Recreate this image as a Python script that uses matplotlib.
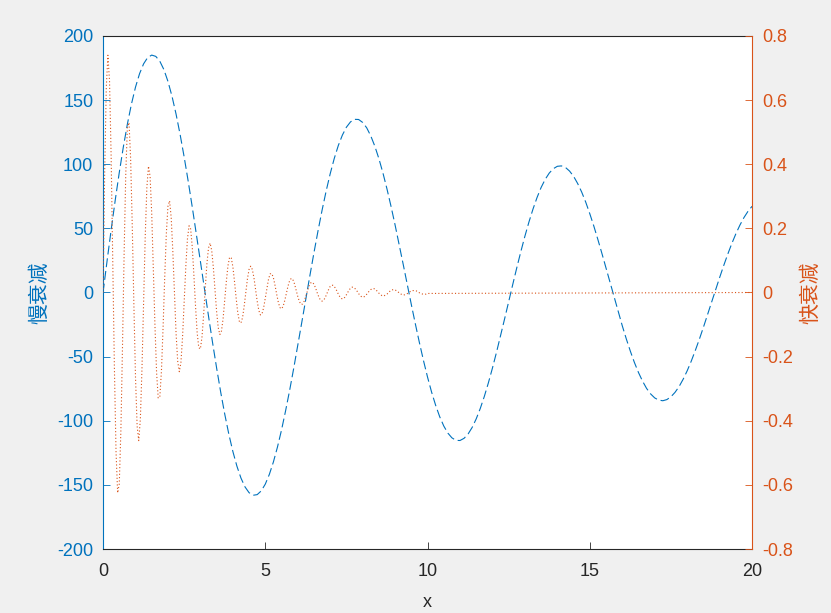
import numpy as np
import matplotlib
matplotlib.use("Agg")
import matplotlib.pyplot as plt

plt.rcParams["font.family"] = ["Liberation Sans", "Noto Sans CJK SC", "DejaVu Sans"]
plt.rcParams["axes.unicode_minus"] = False

# slow decay series, sampled every 0.125 on x in [0, 20]
slow_x = np.linspace(0, 20, 161)
slow_y = [
    0.0, 24.8, 48.9, 71.9, 93.5, 113.4, 131.3, 146.9,
    160.1, 170.6, 178.3, 183.2, 185.1, 184.1, 180.3, 173.8,
    164.6, 153.0, 139.1, 123.2, 105.6, 86.6, 66.5, 45.6,
    24.3, 2.8, -18.4, -39.1, -58.9, -77.6, -94.8, -110.3,
    -123.9, -135.4, -144.7, -151.6, -156.1, -158.1, -157.6, -154.7,
    -149.4, -141.8, -132.1, -120.5, -107.2, -92.3, -76.3, -59.2,
    -41.4, -23.2, -4.9, 13.3, 31.1, 48.1, 64.2, 79.1,
    92.6, 104.5, 114.6, 122.7, 128.9, 133.0, 135.0, 134.9,
    132.6, 128.4, 122.1, 114.1, 104.4, 93.2, 80.7, 67.1,
    52.6, 37.4, 21.9, 6.2, -9.4, -24.6, -39.2, -53.1,
    -66.0, -77.7, -88.0, -96.9, -104.1, -109.6, -113.3, -115.3,
    -115.4, -113.7, -110.3, -105.2, -98.5, -90.4, -81.0, -70.4,
    -58.9, -46.6, -33.7, -20.5, -7.1, 6.2, 19.3, 31.9,
    43.9, 55.0, 65.1, 74.1, 81.9, 88.2, 93.1, 96.5,
    98.4, 98.7, 97.5, 94.7, 90.6, 85.0, 78.3, 70.4,
    61.4, 51.7, 41.2, 30.3, 19.0, 7.6, -3.8, -15.0,
    -25.9, -36.2, -45.8, -54.6, -62.4, -69.1, -74.8, -79.1,
    -82.2, -83.9, -84.4, -83.5, -81.3, -77.9, -73.4, -67.7,
    -61.1, -53.6, -45.3, -36.5, -27.2, -17.6, -7.8, 2.0,
    11.6, 20.9, 29.8, 38.1, 45.7, 52.5, 58.4, 63.3,
    67.2,
]

# fast decay series, sampled every 0.05 on x in [0, 10], flat afterwards
fast_x = np.append(np.linspace(0, 10, 201), 20.0)
fast_y = [
    0.0, 0.374, 0.640, 0.740, 0.658, 0.422, 0.097, -0.236, -0.496, -0.625, -0.597, -0.429,
    -0.165, 0.124, 0.370, 0.516, 0.530, 0.417, 0.210, -0.037, -0.264, -0.416, -0.462,
    -0.394, -0.236, -0.028, 0.175, 0.327, 0.394, 0.362, 0.246, 0.076, -0.104, -0.250,
    -0.329, -0.326, -0.244, -0.109, 0.046, 0.183, 0.269, 0.286, 0.234, 0.129, -0.002,
    -0.127, -0.214, -0.247, -0.218, -0.139, -0.030, 0.080, 0.166, 0.208, 0.198, 0.141,
    0.053, -0.043, -0.125, -0.172, -0.176, -0.138, -0.069, 0.014, 0.089, 0.139, 0.154,
    0.130, 0.077, 0.008, -0.060, -0.110, -0.131, -0.120, -0.081, -0.024, 0.035, 0.084,
    0.110, 0.108, 0.081, 0.035, -0.016, -0.062, -0.090, -0.095, -0.078, -0.042, 0.002,
    0.043, 0.072, 0.082, 0.072, 0.046, 0.009, -0.027, -0.056, -0.070, -0.066, -0.047,
    -0.017, 0.015, 0.042, 0.058, 0.059, 0.046, 0.022, -0.005, -0.030, -0.047, -0.051,
    -0.043, -0.025, -0.002, 0.020, 0.037, 0.044, 0.040, 0.027, 0.008, -0.012, -0.028,
    -0.037, -0.036, -0.027, -0.011, 0.006, 0.021, 0.030, 0.032, 0.026, 0.014, -0.001,
    -0.014, -0.024, -0.027, -0.024, -0.015, -0.003, 0.009, 0.019, 0.023, 0.022, 0.015,
    0.006, -0.005, -0.014, -0.019, -0.020, -0.015, -0.007, 0.002, 0.010, 0.016, 0.017,
    0.014, 0.008, 0.001, -0.007, -0.012, -0.015, -0.013, -0.009, -0.002, 0.004, 0.009,
    0.012, 0.012, 0.009, 0.004, -0.002, -0.007, -0.010, -0.011, -0.008, -0.005, 0.000,
    0.005, 0.008, 0.009, 0.008, 0.005, 0.001, -0.003, -0.006, -0.008, -0.007, -0.005,
    -0.002, 0.002, 0.005, 0.006, 0.006, 0.005, 0.002, -0.001, -0.003, -0.005, -0.006,
    -0.005, -0.003, 0.0,
]

left_ticks = [-200, -150, -100, -50, 0, 50, 100, 150, 200]
right_ticks = [-0.8, -0.6, -0.4, -0.2, 0, 0.2, 0.4, 0.6, 0.8]
right_labels = ["-0.8", "-0.6", "-0.4", "-0.2", "0", "0.2", "0.4", "0.6", "0.8"]
x_ticks = [0, 5, 10, 15, 20]

BLUE = "#0072BD"
ORANGE = "#D95319"
DARK = "#262626"

fig = plt.figure(figsize=(8.31, 6.13), dpi=100, facecolor="#f0f0f0")
ax = fig.add_axes([0.124, 0.1044, 0.781, 0.8369])
ax2 = ax.twinx()

ax.plot(slow_x, slow_y, color=BLUE, linewidth=0.8, dashes=(8, 3.5))
ax2.plot(fast_x, fast_y, color=ORANGE, linewidth=0.8, dashes=(1, 2))

ax.set_xlim(0, 20)
ax.set_ylim(-200, 200)
ax2.set_ylim(-0.8, 0.8)
ax.set_xticks(x_ticks)
ax.set_yticks(left_ticks)
ax2.set_yticks(right_ticks)
ax2.set_yticklabels(right_labels)

fs = 13
ax.tick_params(axis="x", direction="in", length=5, colors=DARK, labelsize=fs, pad=10, width=0.6)
ax.tick_params(axis="y", direction="in", length=5, colors=BLUE, labelsize=fs, pad=7, width=0.6)
ax2.tick_params(axis="y", direction="in", length=5, colors=ORANGE, labelsize=fs, pad=7, width=0.6)

for sp in ("top", "bottom"):
    ax.spines[sp].set_color(DARK)
    ax.spines[sp].set_linewidth(0.8)
    ax2.spines[sp].set_visible(False)
ax.spines["left"].set_color(BLUE)
ax.spines["left"].set_linewidth(0.8)
ax.spines["right"].set_visible(False)
ax2.spines["left"].set_visible(False)
ax2.spines["right"].set_color(ORANGE)
ax2.spines["right"].set_linewidth(0.8)

ax.set_xlabel("x", fontsize=fs, color=DARK, labelpad=10)
ax.set_ylabel("慢衰减", fontsize=15, color=BLUE, labelpad=6)
ax2.set_ylabel("快衰减", fontsize=15, color=ORANGE, labelpad=6)

fig.savefig("out.png", dpi=100, facecolor=fig.get_facecolor())
